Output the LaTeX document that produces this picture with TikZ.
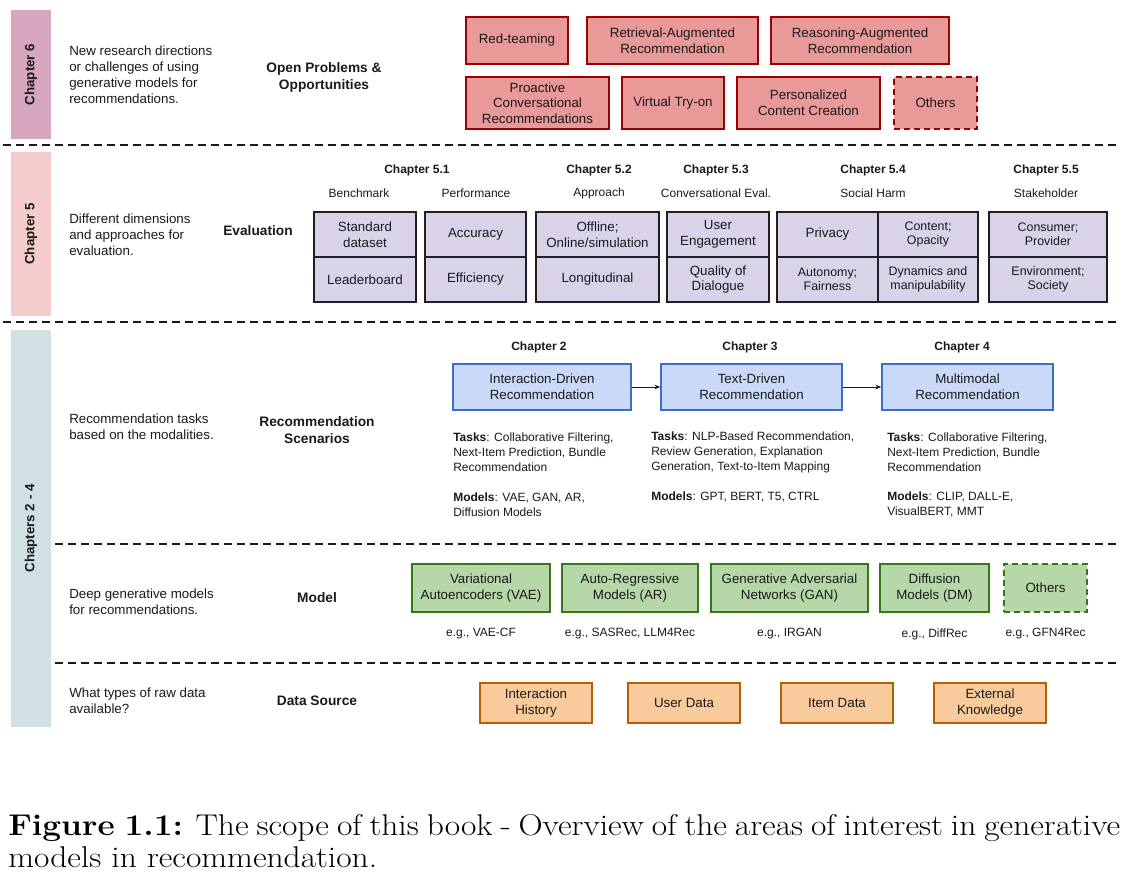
\documentclass[tikz,border=0pt]{standalone}
\usepackage{fontspec}
\usepackage{graphicx}
\newfontfamily\robo{Liberation Sans}
\usetikzlibrary{arrows.meta}
\definecolor{cvi}{HTML}{D5A6BD}
\definecolor{cv}{HTML}{F4CCCC}
\definecolor{civ}{HTML}{D0E0E3}
\definecolor{rfill}{HTML}{EA9999}
\definecolor{rline}{HTML}{990000}
\definecolor{lav}{HTML}{D9D2E9}
\definecolor{lavline}{HTML}{202020}
\definecolor{bfill}{HTML}{C9DAF8}
\definecolor{bline}{HTML}{3D6DC4}
\definecolor{gfill}{HTML}{B6D7A8}
\definecolor{gline}{HTML}{38761D}
\definecolor{ofill}{HTML}{F9CB9C}
\definecolor{oline}{HTML}{B45F06}
\definecolor{ink}{HTML}{1A1A1A}
\newcommand\fntA{\robo\fontsize{10}{12}\selectfont}
\newcommand\fntC{\robo\fontsize{10}{11.7}\selectfont}
\newcommand\fntCs{\robo\fontsize{9.3}{10.8}\selectfont}
\newcommand\fntS{\robo\fontsize{9}{11.25}\selectfont}
\newcommand\fntH{\robo\bfseries\fontsize{9}{11}\selectfont}
\newcommand\fntL{\robo\bfseries\fontsize{10.3}{12.8}\selectfont}
\newcommand\fntB{\robo\bfseries\fontsize{10}{12}\selectfont}
\begin{document}
\begin{tikzpicture}[x=0.75pt,y=-0.75pt,
  sz/.style 2 args={minimum width=#1*0.75pt, minimum height=#2*0.75pt},
  bar/.style={rotate=90, inner sep=0, font=\fntB, text=ink},
  desc/.style={anchor=west, align=left, inner sep=0, font=\fntA, text=ink},
  lab/.style={align=center, inner sep=0, font=\fntL, text=ink},
  rbox/.style={draw=rline, fill=rfill, line width=1pt, align=center, inner sep=0, font=\fntC, text=ink},
  cell/.style={draw=lavline, fill=lav, line width=1pt, align=center, inner sep=0, font=\fntC, text=ink},
  smallcell/.style={cell, font=\fntCs},
  chap/.style={font=\fntH, inner sep=0, text=ink},
  subh/.style={font=\fntS, inner sep=0, text=ink},
  bbox/.style={draw=bline, fill=bfill, line width=1pt, align=center, inner sep=0, font=\fntC, text=ink},
  gbox/.style={draw=gline, fill=gfill, line width=1pt, align=center, inner sep=0, font=\fntC, text=ink},
  obox/.style={draw=oline, fill=ofill, line width=1pt, align=center, inner sep=0, font=\fntC, text=ink},
  dsh/.style={dash pattern=on 4.5pt off 3pt},
  sepline/.style={line width=1.3pt, dash pattern=on 6pt off 3.75pt, draw=ink},
  note/.style={anchor=west, align=left, inner sep=0, font=\fntS, text=ink},
  eg/.style={font=\fntS, inner sep=0, text=ink},
  conn/.style={-{Stealth[length=4.5pt,width=3.5pt]}, line width=0.7pt, draw=ink}
]
\useasboundingbox (0,0) rectangle (1130,877);
\fill[white] (0,0) rectangle (1130,877);

% chapter bars
\node[bar, fill=cvi, sz={129}{40}] (b6) at (31,74.5) {Chapter 6};
\node[bar, fill=cv, sz={164}{40}] (b5) at (31,234) {Chapter 5};
\node[bar, fill=civ, sz={397}{40}] (b24) at (31,528.5) {Chapters 2 - 4};

% separators
\draw[sepline] (3,145) -- (1120,145);
\draw[sepline] (3,322) -- (1120,322);
\draw[sepline] (55,544) -- (1120,544);
\draw[sepline] (55,663) -- (1120,663);

% descriptions
\node[desc] (d6) at (69,75) {New research directions\\or challenges of using\\generative models for\\recommendations.};
\node[desc] (d5) at (69,235) {Different dimensions\\and approaches for\\evaluation.};
\node[desc] (dsc) at (69,427) {Recommendation tasks\\based on the modalities.};
\node[desc] (dmo) at (69,602) {Deep generative models\\for recommendations.};
\node[desc] (dda) at (69,701) {What types of raw data\\available?};

% labels
\node[lab] (l6) at (324,77) {Open Problems \&\\Opportunities};
\node[lab] (l5) at (258,231) {Evaluation};
\node[lab] (lsc) at (317,430) {Recommendation\\Scenarios};
\node[lab] (lmo) at (317,598) {Model};
\node[lab] (lda) at (317,701) {Data Source};

% chapter 6 boxes
\node[rbox, sz={102}{47}] (r1) at (517,40.5) {Red-teaming};
\node[rbox, sz={171}{47}] (r2) at (672.5,40.5) {Retrieval-Augmented\\Recommendation};
\node[rbox, sz={178}{47}] (r3) at (860,40.5) {Reasoning-Augmented\\Recommendation};
\node[rbox, sz={143}{52}] (r4) at (537.5,103) {Proactive\\Conversational\\Recommendations};
\node[rbox, sz={102}{52}] (r5) at (673,103) {Virtual Try-on};
\node[rbox, sz={143}{52}] (r6) at (808.5,103) {Personalized\\Content Creation};
\node[rbox, dsh, sz={83}{52}] (r7) at (935.5,103) {Others};

% chapter 5 headings
\node[chap] (h51) at (417,170) {Chapter 5.1};
\node[chap] (h52) at (599,170) {Chapter 5.2};
\node[chap] (h53) at (716,170) {Chapter 5.3};
\node[chap] (h54) at (873,170) {Chapter 5.4};
\node[chap] (h55) at (1046,170) {Chapter 5.5};
\node[subh] (s1) at (359,193) {Benchmark};
\node[subh] (s2) at (476,193) {Performance};
\node[subh] (s3) at (599,193) {Approach};
\node[subh] (s4) at (716,193) {Conversational Eval.};
\node[subh] (s5) at (873,193) {Social Harm};
\node[subh] (s6) at (1046,193) {Stakeholder};

% chapter 5 cells
\node[cell, sz={102}{45}] (e1a) at (365,234.5) {Standard\\dataset};
\node[cell, sz={102}{45}] (e1b) at (365,279.5) {Leaderboard};
\node[cell, sz={101}{45}] (e2a) at (475.5,234.5) {Accuracy};
\node[cell, sz={101}{45}] (e2b) at (475.5,279.5) {Efficiency};
\node[cell, sz={123}{45}] (e3a) at (597.5,234.5) {Offline;\\Online/simulation};
\node[cell, sz={123}{45}] (e3b) at (597.5,279.5) {Longitudinal};
\node[cell, sz={102}{45}] (e4a) at (718,234.5) {User\\Engagement};
\node[cell, sz={102}{45}] (e4b) at (718,279.5) {Quality of\\Dialogue};
\node[cell, sz={101}{45}] (e5a) at (827.5,234.5) {Privacy};
\node[smallcell, sz={100}{45}] (e5b) at (928,234.5) {Content;\\Opacity};
\node[smallcell, sz={101}{45}] (e5c) at (827.5,279.5) {Autonomy;\\Fairness};
\node[smallcell, sz={100}{45}] (e5d) at (928,279.5) {Dynamics and\\manipulability};
\node[smallcell, sz={118}{45}] (e6a) at (1048,234.5) {Consumer;\\Provider};
\node[smallcell, sz={118}{45}] (e6b) at (1048,279.5) {Environment;\\Society};

% scenarios
\node[chap] (h2) at (539,347) {Chapter 2};
\node[chap] (h3) at (750,347) {Chapter 3};
\node[chap] (h4) at (962,347) {Chapter 4};
\node[bbox, sz={178}{46}] (sc1) at (542,387) {Interaction-Driven\\Recommendation};
\node[bbox, sz={181}{46}] (sc2) at (751.5,387) {Text-Driven\\Recommendation};
\node[bbox, sz={171}{46}] (sc3) at (967.5,387) {Multimodal\\Recommendation};
\draw[conn] (sc1) -- (sc2);
\draw[conn] (sc2) -- (sc3);
\node[note] (t1) at (453,452) {\textbf{Tasks}: Collaborative Filtering,\\Next-Item Prediction, Bundle\\Recommendation};
\node[note] (m1) at (453,504.5) {\textbf{Models}: VAE, GAN, AR,\\Diffusion Models};
\node[note] (t2) at (651,452) {\textbf{Tasks}: NLP-Based Recommendation,\\Review Generation, Explanation\\Generation, Text-to-Item Mapping};
\node[note] (m2) at (651,497) {\textbf{Models}: GPT, BERT, T5, CTRL};
\node[note] (t3) at (887,452) {\textbf{Tasks}: Collaborative Filtering,\\Next-Item Prediction, Bundle\\Recommendation};
\node[note] (m3) at (887,504.5) {\textbf{Models}: CLIP, DALL-E,\\VisualBERT, MMT};

% models
\node[gbox, sz={138}{48}] (g1) at (481,588) {Variational\\Autoencoders (VAE)};
\node[gbox, sz={136}{48}] (g2) at (630,588) {Auto-Regressive\\Models (AR)};
\node[gbox, sz={157}{48}] (g3) at (789.5,588) {Generative Adversarial\\Networks (GAN)};
\node[gbox, sz={109}{48}] (g4) at (934.5,588) {Diffusion\\Models (DM)};
\node[gbox, dsh, sz={83}{48}] (g5) at (1045.5,588) {Others};
\node[eg] (x1) at (481,634) {e.g., VAE-CF};
\node[eg] (x2) at (630,634) {e.g., SASRec, LLM4Rec};
\node[eg] (x3) at (789.5,634) {e.g., IRGAN};
\node[eg] (x4) at (934.5,634) {e.g., DiffRec};
\node[eg] (x5) at (1045.5,634) {e.g., GFN4Rec};

% data sources
\node[obox, sz={112}{40}] (o1) at (536,703) {Interaction\\History};
\node[obox, sz={112}{40}] (o2) at (684,703) {User Data};
\node[obox, sz={112}{40}] (o3) at (837,703) {Item Data};
\node[obox, sz={112}{40}] (o4) at (990,703) {External\\Knowledge};

% caption
\node[anchor=north west, inner sep=0, align=left, font=\rmfamily\fontsize{22.5}{24}\selectfont] (cap) at (8,814)
  {\scalebox{1.115}[1]{\makebox[748pt][s]{\textbf{Figure 1.1:} The scope of this book - Overview of the areas of interest in generative}}\\\scalebox{1.115}[1]{models in recommendation.}};
\end{tikzpicture}
\end{document}
